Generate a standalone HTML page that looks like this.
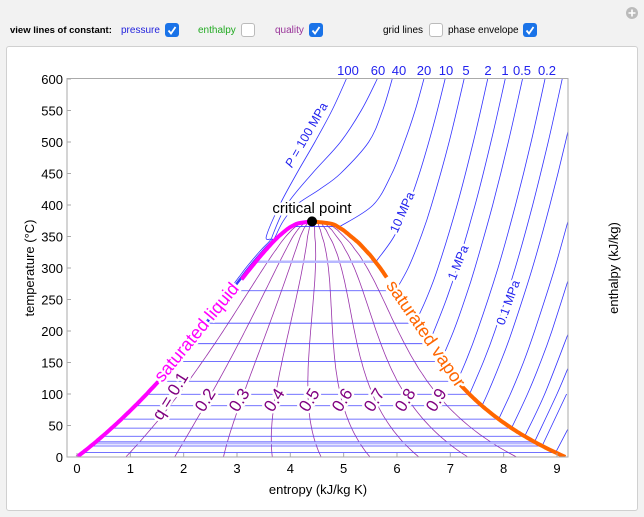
<!DOCTYPE html>
<html><head><meta charset="utf-8"><style>
body{margin:0;width:644px;height:517px;background:#f2f2f2;font-family:"Liberation Sans",sans-serif;overflow:hidden;position:relative}
.card{position:absolute;left:6px;top:46px;width:630px;height:463px;background:#fff;border:1px solid #d0d0d0;border-radius:3px}
.t{position:absolute;top:25px;font-size:10px;line-height:12px}
.cb{position:absolute;top:23px;width:14px;height:14px;border-radius:3px}
.on{background:#1a73e8}
.off{background:#fff;border:1px solid #bbb;width:12px;height:12px}
svg{position:absolute;left:0;top:0}
</style></head><body>
<div class="card"></div>
<div class="t" style="left:10px;font-weight:bold;font-size:9.5px">view lines of constant:</div>
<div class="t" style="left:121px;color:#2222dd">pressure</div>
<div class="cb on" style="left:165px"></div>
<div class="t" style="left:198px;color:#22aa22">enthalpy</div>
<div class="cb off" style="left:241px"></div>
<div class="t" style="left:275px;color:#993399">quality</div>
<div class="cb on" style="left:309px"></div>
<div class="t" style="left:383px">grid lines</div>
<div class="cb off" style="left:429px"></div>
<div class="t" style="left:448px">phase envelope</div>
<div class="cb on" style="left:523px"></div>
<svg id="s" width="644" height="517" xmlns="http://www.w3.org/2000/svg"></svg>
<script>
var X=function(s){return 77+53.33*s},Y=function(T){return 457-0.63*T};
var sat=[[0.01,0,9.156],[10,.151,8.900],[20,.2965,8.666],[30,.4368,8.452],[40,.5724,8.255],[50,.7038,8.075],[60,.8313,7.908],[70,.9551,7.754],[80,1.0756,7.611],[90,1.1929,7.478],[100,1.3072,7.354],[120,1.5279,7.129],[140,1.7392,6.929],[160,1.9426,6.749],[180,2.1392,6.585],[200,2.3305,6.431],[220,2.5177,6.284],[240,2.702,6.141],[260,2.8849,5.997],[280,3.0685,5.848],[300,3.2552,5.6855],[320,3.4494,5.5019],[340,3.6601,5.2817],[350,3.7784,5.1401],[360,3.9167,4.997],[365,4.0,4.90],[370,4.1112,4.8],[372,4.2,4.65],[373.95,4.407,4.407]];
function si(T,k){for(var i=1;i<sat.length;i++){if(T<=sat[i][0]){var a=sat[i-1],b=sat[i],f=(T-a[0])/(b[0]-a[0]);return a[k]+f*(b[k]-a[k]);}}return sat[sat.length-1][k];}
function cr(p){var d="M"+p[0][0].toFixed(1)+","+p[0][1].toFixed(1);for(var i=0;i<p.length-1;i++){var p0=p[i-1]||p[i],p1=p[i],p2=p[i+1],p3=p[i+2]||p2;d+="C"+(p1[0]+(p2[0]-p0[0])/6).toFixed(1)+","+(p1[1]+(p2[1]-p0[1])/6).toFixed(1)+" "+(p2[0]-(p3[0]-p1[0])/6).toFixed(1)+","+(p2[1]-(p3[1]-p1[1])/6).toFixed(1)+" "+p2[0].toFixed(1)+","+p2[1].toFixed(1);}return d;}
var out=[];
function path(d,st){out.push('<path d="'+d+'" fill="none" '+st+'/>');}
function txt(x,y,s,st,rot){out.push('<text x="'+x+'" y="'+y+'" '+st+(rot!=null?' transform="rotate('+rot+' '+x+' '+y+')"':'')+'>'+s+'</text>');}
out.push('<defs><clipPath id="c"><rect x="67" y="78" width="501" height="379"/></clipPath></defs><g clip-path="url(#c)">');
for(var q=1;q<=9;q++){var p=[];for(var T=0.01;T<=374;T+=(T<360?10:2)){var tt=Math.min(T,373.95);p.push([X(si(tt,1)+q/10*(si(tt,2)-si(tt,1))),Y(tt)]);}p.push([X(4.407),Y(373.95)]);path(cr(p),'stroke="#9933aa" stroke-width="0.8"');}
var iso=[[20,365.8,[[365.8,4.927],[400,5.553],[450,5.905],[500,6.14],[550,6.34],[600,6.505]]],
[10,311,[[311,5.614],[350,5.944],[400,6.214],[450,6.42],[500,6.597],[550,6.756],[600,6.903]]],
[5,263.9,[[263.9,5.974],[300,6.21],[350,6.45],[400,6.648],[500,6.977],[600,7.259]]],
[2,212.4,[[212.4,6.34],[250,6.545],[300,6.768],[400,7.127],[500,7.432],[600,7.702]]],
[1,179.9,[[179.9,6.585],[200,6.694],[250,6.925],[300,7.123],[400,7.465],[500,7.762],[600,8.029]]],
[0.5,151.8,[[151.8,6.821],[200,7.061],[250,7.272],[300,7.461],[400,7.794],[500,8.088],[600,8.353]]],
[0.2,120.2,[[120.2,7.127],[150,7.281],[200,7.507],[300,7.894],[400,8.222],[500,8.515],[600,8.776]]],
[0.1,99.6,[[99.6,7.359],[150,7.614],[200,7.836],[300,8.217],[400,8.544],[500,8.835],[600,9.099]]],
[0.05,81.3,[[81.3,7.593],[100,7.695],[150,7.94],[200,8.159],[300,8.539],[400,8.867],[500,9.16],[600,9.42]]],
[0.02,60.1,[[60.1,7.907],[100,8.126],[150,8.37],[200,8.58],[300,8.96],[400,9.29]]],
[0.01,45.8,[[45.8,8.148],[100,8.448],[150,8.69],[200,8.904],[300,9.281]]],
[0.005,32.9,[[32.9,8.394],[100,8.77],[200,9.23]]],
[0.003,24.1,[[24.1,8.58],[100,9.0],[150,9.25]]],
[0.002,17.5,[[17.5,8.722],[100,9.18]]],
[0.001,7,[[7,8.974],[50,9.24]]]];
iso.forEach(function(r){var P=r[0],Ts=r[1];var p=[];if(P>=5){for(var T=0.01;T<Ts;T+=15){var o=-0.0009*P*Math.pow(Math.min(1,T/300),1.5);p.push([X(si(T,1)+o),Y(T)]);}p.push([X(si(Ts,1)),Y(Ts)]);path(cr(p),'stroke="#3333ff" stroke-width="0.8"');}
path('M'+X(si(Ts,1))+','+Y(Ts)+'H'+X(si(Ts,2)),'stroke="#4444ff" stroke-width="0.8"');
path(cr(r[2].map(function(a){return[X(a[1]),Y(a[0])]})),'stroke="#3333ff" stroke-width="0.8"');});
var sc=[[40,[[350,3.72],[375,3.87],[400,4.11],[425,4.55],[450,4.94],[500,5.47],[550,5.73],[600,5.91]]],
[60,[[350,3.66],[400,3.93],[450,4.41],[500,4.94],[550,5.33],[600,5.63]]],
[100,[[350,3.55],[400,3.8],[450,4.12],[500,4.46],[550,4.78],[600,5.05]]]];
sc.forEach(function(r){var P=r[0],p=[];for(var T=0.01;T<350;T+=15){var o=-0.0009*P*Math.pow(Math.min(1,T/300),1.5);p.push([X(si(T,1)+o),Y(T)]);}r[1].forEach(function(a){p.push([X(a[1]),Y(a[0])])});path(cr(p),'stroke="#3333ff" stroke-width="0.8"');});
path('M'+X(si(310,1))+','+Y(310)+'H'+X(si(310,2)),'stroke="#b8b8ff" stroke-width="2.5"');
path('M'+X(si(22,1))+','+Y(22)+'H'+X(si(22,2)),'stroke="#b8b8ff" stroke-width="2.5"');
function satp(k,a,b){var p=[],st=(b-a)/30;for(var i=0;i<=30;i++){var T=a+st*i;p.push([X(si(T,k)),Y(T)]);}return cr(p);}
path(satp(1,0.01,127),'stroke="#ff00ff" stroke-width="4"');
path(satp(1,282,373.95),'stroke="#ff00ff" stroke-width="4"');
path(satp(2,285,373.95),'stroke="#ff6600" stroke-width="4"');
path(satp(2,0.01,116),'stroke="#ff6600" stroke-width="4"');
out.push('</g>');
var ql=[["q = 0.1",175,393],["0.2",210,397],["0.3",244,397],["0.4",279,397],["0.5",314,397],["0.6",347,397],["0.7",379,397],["0.8",410,397],["0.9",441,397]];
var wh=' stroke="#fff" stroke-width="5" paint-order="stroke" stroke-linejoin="round"';
ql.forEach(function(a){txt(a[1],a[2]+6,a[0],'font-size="17" fill="#800080" text-anchor="middle"'+wh,-58);});
txt(201,336,"saturated liquid",'font-size="18" fill="#ff00ff" text-anchor="middle"'+wh,-50.6);
txt(421,337,"saturated vapor",'font-size="18" fill="#ff6600" text-anchor="middle"'+wh,55.5);
txt(312,213,"critical point",'font-size="15" fill="#000" text-anchor="middle"'+wh);
out.push('<circle cx="'+X(4.407)+'" cy="'+Y(373.95)+'" r="5" fill="#000"/>');
var bl='font-size="12.5" fill="#2222ee" text-anchor="middle"'+wh;
txt(310,137,"<tspan font-style=\"italic\">P</tspan> = 100 MPa",bl,-60);
txt(406,214,"10 MPa",bl,-66);
txt(462,264,"1 MPa",bl,-68);
txt(512,304,"0.1 MPa",bl,-70);
[["100",348],["60",378],["40",399],["20",424],["10",446],["5",466],["2",488],["1",505],["0.5",522],["0.2",547]].forEach(function(a){txt(a[1],75,a[0],'font-size="13" fill="#2222ee" text-anchor="middle"');});
out.push('<rect x="67" y="78.5" width="501" height="378.5" fill="none" stroke="#aaa" stroke-width="1"/>');
for(var T=0;T<=600;T+=50){out.push('<line x1="67" x2="71" y1="'+Y(T)+'" y2="'+Y(T)+'" stroke="#aaa"/>');txt(63,Y(T)+5,T,'font-size="13" text-anchor="end" fill="#000"');}
for(var s=0;s<=9;s++){out.push('<line x1="'+X(s)+'" x2="'+X(s)+'" y1="457" y2="453" stroke="#aaa"/>');txt(X(s),473,s,'font-size="13" text-anchor="middle" fill="#000"');}
txt(318,494,"entropy (kJ/kg K)",'font-size="13" text-anchor="middle"');
txt(34,268,"temperature (°C)",'font-size="13" text-anchor="middle"',-90);
txt(618,268,"enthalpy (kJ/kg)",'font-size="13" text-anchor="middle"',-90);
out.push('<circle cx="632" cy="13" r="6" fill="#bbb"/><path d="M628.5,13H635.5M632,9.5V16.5" stroke="#fff" stroke-width="1.6"/>');
['172','316','530'].forEach(function(x){out.push('<path d="M'+(+x-3.5)+',30.5l2.5,3l4.5,-6.5" fill="none" stroke="#fff" stroke-width="1.8"/>');});
document.getElementById('s').innerHTML=out.join('');
</script>
</body></html>
